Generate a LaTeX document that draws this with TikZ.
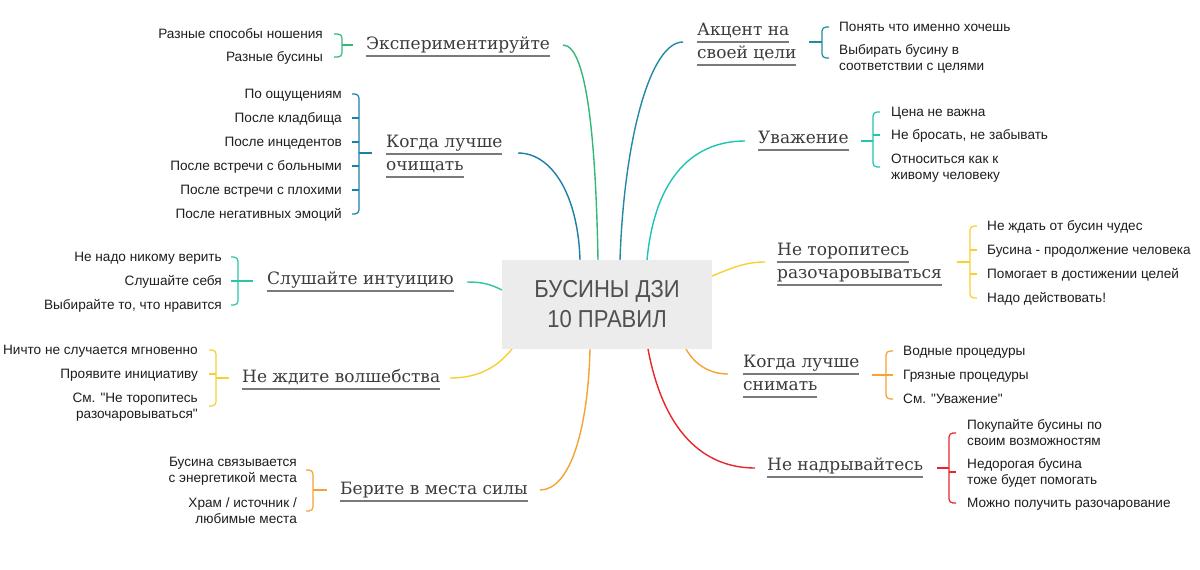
\documentclass[tikz,border=0pt]{standalone}
\usepackage{fontspec}
\setmainfont{Liberation Sans}
\newfontfamily\ttlfont{DejaVu Serif}
\newfontfamily\leaffont{Liberation Sans}
\newfontfamily\ctrfont[FakeStretch=0.9]{Liberation Sans}
\usetikzlibrary{backgrounds}
\definecolor{cgreen}{HTML}{35B779}
\definecolor{cblue}{HTML}{1B7FA6}
\definecolor{cdteal}{HTML}{2489A3}
\definecolor{cteal}{HTML}{1FC4B4}
\definecolor{cteal2}{HTML}{2EC4A8}
\definecolor{cyellow}{HTML}{F7D031}
\definecolor{corange}{HTML}{F5A331}
\definecolor{cred}{HTML}{E7262B}
\definecolor{ulgray}{HTML}{7A7A7A}
\definecolor{ttlcol}{HTML}{3C3C3C}
\definecolor{leafcol}{HTML}{1E1E1E}
\definecolor{ctrcol}{HTML}{505050}
\definecolor{boxgray}{HTML}{ECECEC}
\newsavebox\ulbox
\newcommand\ulin[1]{\sbox\ulbox{#1}\rlap{\smash{\textcolor{ulgray}{\rule[-8pt]{\wd\ulbox}{2pt}}}}\usebox\ulbox}
\newcommand\twoR[2]{\begin{tabular}[t]{@{}r@{}}#1\\#2\end{tabular}}
\newcommand\twoL[2]{\begin{tabular}[t]{@{}l@{}}#1\\#2\end{tabular}}
\newcommand\ttwo[2]{\begin{tabular}[t]{@{}l@{}}\ulin{#1}\\\ulin{#2}\end{tabular}}
\tikzset{
  ttl/.style={inner sep=0pt, anchor=base west, font=\ttlfont\fontsize{17}{23}\selectfont, text=ttlcol},
  leafR/.style={inner sep=0pt, anchor=base east, font=\leaffont\fontsize{13.6}{15.5}\selectfont, text=leafcol},
  leafL/.style={inner sep=0pt, anchor=base west, font=\leaffont\fontsize{13.6}{15.5}\selectfont, text=leafcol},
  conn/.style={line width=1.4pt},
  brk/.style={line width=1.2pt, rounded corners=4pt},
  ctrbox/.style={fill=boxgray, inner sep=0pt, minimum width=210pt, minimum height=89pt, align=center, text=ctrcol, font=\ctrfont\fontsize{24.5}{30}\selectfont}
}
\begin{document}
\begin{tikzpicture}[x=1pt,y=-1pt]
\useasboundingbox (0,0) rectangle (1200,570);
\begin{pgfonlayer}{background}
\fill[white] (0,0) rectangle (1200,570);
\end{pgfonlayer}
% center
\node[ctrbox] (box) at (607,304.5) {БУСИНЫ ДЗИ\\10 ПРАВИЛ};

% titles
\node[ttl] (t1) at (366,49) {\ulin{Экспериментируйте}};
\node[ttl] (t2) at (386,147) {\ttwo{Когда лучше}{очищать}};
\node[ttl] (t3) at (267,284) {\ulin{Слушайте интуицию}};
\node[ttl] (t4) at (242,382) {\ulin{Не ждите волшебства}};
\node[ttl] (t5) at (340,494) {\ulin{Берите в места силы}};
\node[ttl] (r1) at (697,35) {\ttwo{Акцент на}{своей цели}};
\node[ttl] (r2) at (758,143) {\ulin{Уважение}};
\node[ttl] (r3) at (777,255) {\ttwo{Не торопитесь}{разочаровываться}};
\node[ttl] (r4) at (743,367) {\ttwo{Когда лучше}{снимать}};
\node[ttl] (r5) at (767,470) {\ulin{Не надрывайтесь}};

% attach points
\coordinate (a1) at (563,45);
\coordinate (a2) at (518,153);
\coordinate (a3) at (467,282);
\coordinate (a4) at (450,378);
\coordinate (a5) at (540,490);
\coordinate (b1) at (683,42);
\coordinate (b2) at (745,141);
\coordinate (b3) at (765,262);
\coordinate (b4) at (728,374);
\coordinate (b5) at (755,468);
\coordinate (e1) at (598,260);
\coordinate (e2) at (580,260);
\coordinate (e3) at (502,290);
\coordinate (e4) at (512,349);
\coordinate (e5) at (590,349);
\coordinate (f1) at (620,260);
\coordinate (f2) at (647,260);
\coordinate (f3) at (712,276);
\coordinate (f4) at (686,349);
\coordinate (f5) at (648,349);

\begin{pgfonlayer}{background}
\draw[conn,cgreen] (e1) .. controls (596,150) and (588,45) .. (a1);
\draw[conn,cblue] (e2) .. controls (578,195) and (552,153) .. (a2);
\draw[conn,cteal2] (e3) .. controls (490,284) and (482,282) .. (a3);
\draw[conn,cyellow] (e4) .. controls (495,370) and (475,378) .. (a4);
\draw[conn,corange] (e5) .. controls (588,430) and (570,490) .. (a5);
\draw[conn,cdteal] (f1) .. controls (624,140) and (650,42) .. (b1);
\draw[conn,cteal] (f2) .. controls (655,175) and (695,141) .. (b2);
\draw[conn,cyellow] (f3) .. controls (732,268) and (745,262) .. (b3);
\draw[conn,corange] (f4) .. controls (695,365) and (710,374) .. (b4);
\draw[conn,cred] (f5) .. controls (665,440) and (710,468) .. (b5);
\end{pgfonlayer}

% left brackets
\draw[brk,cgreen] (334,34) -- (342,34) -- (342,57) -- (334,57);
\draw[line width=1.2pt,cgreen] (342,45) -- (353,45);
\draw[brk,cblue] (352,94) -- (359,94) -- (359,214) -- (352,214);
\draw[line width=1.2pt,cblue] (352,118) -- (359,118) (352,142) -- (359,142) (352,166) -- (359,166) (352,190) -- (359,190) (359,153) -- (372,153);
\draw[brk,cteal2] (231,257) -- (238,257) -- (238,305) -- (231,305);
\draw[line width=1.2pt,cteal2] (231,281) -- (253,281);
\draw[brk,cyellow] (209,350) -- (216,350) -- (216,406) -- (209,406);
\draw[line width=1.2pt,cyellow] (209,374) -- (216,374) (216,378) -- (229,378);
\draw[brk,corange] (306,470) -- (313,470) -- (313,511) -- (306,511);
\draw[line width=1.2pt,corange] (313,490) -- (327,490);
% right brackets
\draw[brk,cdteal] (829,27) -- (822,27) -- (822,58) -- (829,58);
\draw[line width=1.2pt,cdteal] (809,42) -- (822,42);
\draw[brk,cteal] (880,112) -- (873,112) -- (873,167) -- (880,167);
\draw[line width=1.2pt,cteal] (873,135) -- (880,135) (861,141) -- (873,141);
\draw[brk,cyellow] (977,226) -- (970,226) -- (970,298) -- (977,298);
\draw[line width=1.2pt,cyellow] (970,250) -- (977,250) (970,274) -- (977,274) (957,262) -- (970,262);
\draw[brk,corange] (893,351) -- (886,351) -- (886,399) -- (893,399);
\draw[line width=1.2pt,corange] (872,375) -- (893,375);
\draw[brk,cred] (956,433) -- (949,433) -- (949,503) -- (956,503);
\draw[line width=1.2pt,cred] (949,472) -- (956,472) (937,468) -- (949,468);

% leaves left
\node[leafR] (l11) at (323,38.5) {Разные способы ношения};
\node[leafR] (l12) at (323,61.5) {Разные бусины};
\node[leafR] (l21) at (342,98.5) {По ощущениям};
\node[leafR] (l22) at (342,122.5) {После кладбища};
\node[leafR] (l23) at (342,146.5) {После инцедентов};
\node[leafR] (l24) at (342,170.5) {После встречи с больными};
\node[leafR] (l25) at (342,194.5) {После встречи с плохими};
\node[leafR] (l26) at (342,218.5) {После негативных эмоций};
\node[leafR] (l31) at (222,261.5) {Не надо никому верить};
\node[leafR] (l32) at (222,285.5) {Слушайте себя};
\node[leafR] (l33) at (222,309.5) {Выбирайте то, что нравится};
\node[leafR] (l41) at (198,354.5) {Ничто не случается мгновенно};
\node[leafR] (l42) at (198,378.5) {Проявите инициативу};
\node[leafR] (l43) at (198,402.5) {\twoR{См. "Не торопитесь}{разочаровываться"}};
\node[leafR] (l51) at (297,466.5) {\twoR{Бусина связывается}{с энергетикой места}};
\node[leafR] (l52) at (297,507.5) {\twoR{Храм / источник /}{любимые места}};
% leaves right
\node[leafL] (m11) at (839,31.5) {Понять что именно хочешь};
\node[leafL] (m12) at (839,54.5) {\twoL{Выбирать бусину в}{соответствии с целями}};
\node[leafL] (m21) at (891,116.5) {Цена не важна};
\node[leafL] (m22) at (891,139.5) {Не бросать, не забывать};
\node[leafL] (m23) at (891,163.5) {\twoL{Относиться как к}{живому человеку}};
\node[leafL] (m31) at (987,230.5) {Не ждать от бусин чудес};
\node[leafL] (m32) at (987,254.5) {Бусина - продолжение человека};
\node[leafL] (m33) at (987,278.5) {Помогает в достижении целей};
\node[leafL] (m34) at (987,302.5) {Надо действовать!};
\node[leafL] (m41) at (903,355.5) {Водные процедуры};
\node[leafL] (m42) at (903,379.5) {Грязные процедуры};
\node[leafL] (m43) at (903,403.5) {См. "Уважение"};
\node[leafL] (m51) at (967,429.5) {\twoL{Покупайте бусины по}{своим возможностям}};
\node[leafL] (m52) at (967,468.5) {\twoL{Недорогая бусина}{тоже будет помогать}};
\node[leafL] (m53) at (967,507.5) {Можно получить разочарование};
\end{tikzpicture}
\end{document}
